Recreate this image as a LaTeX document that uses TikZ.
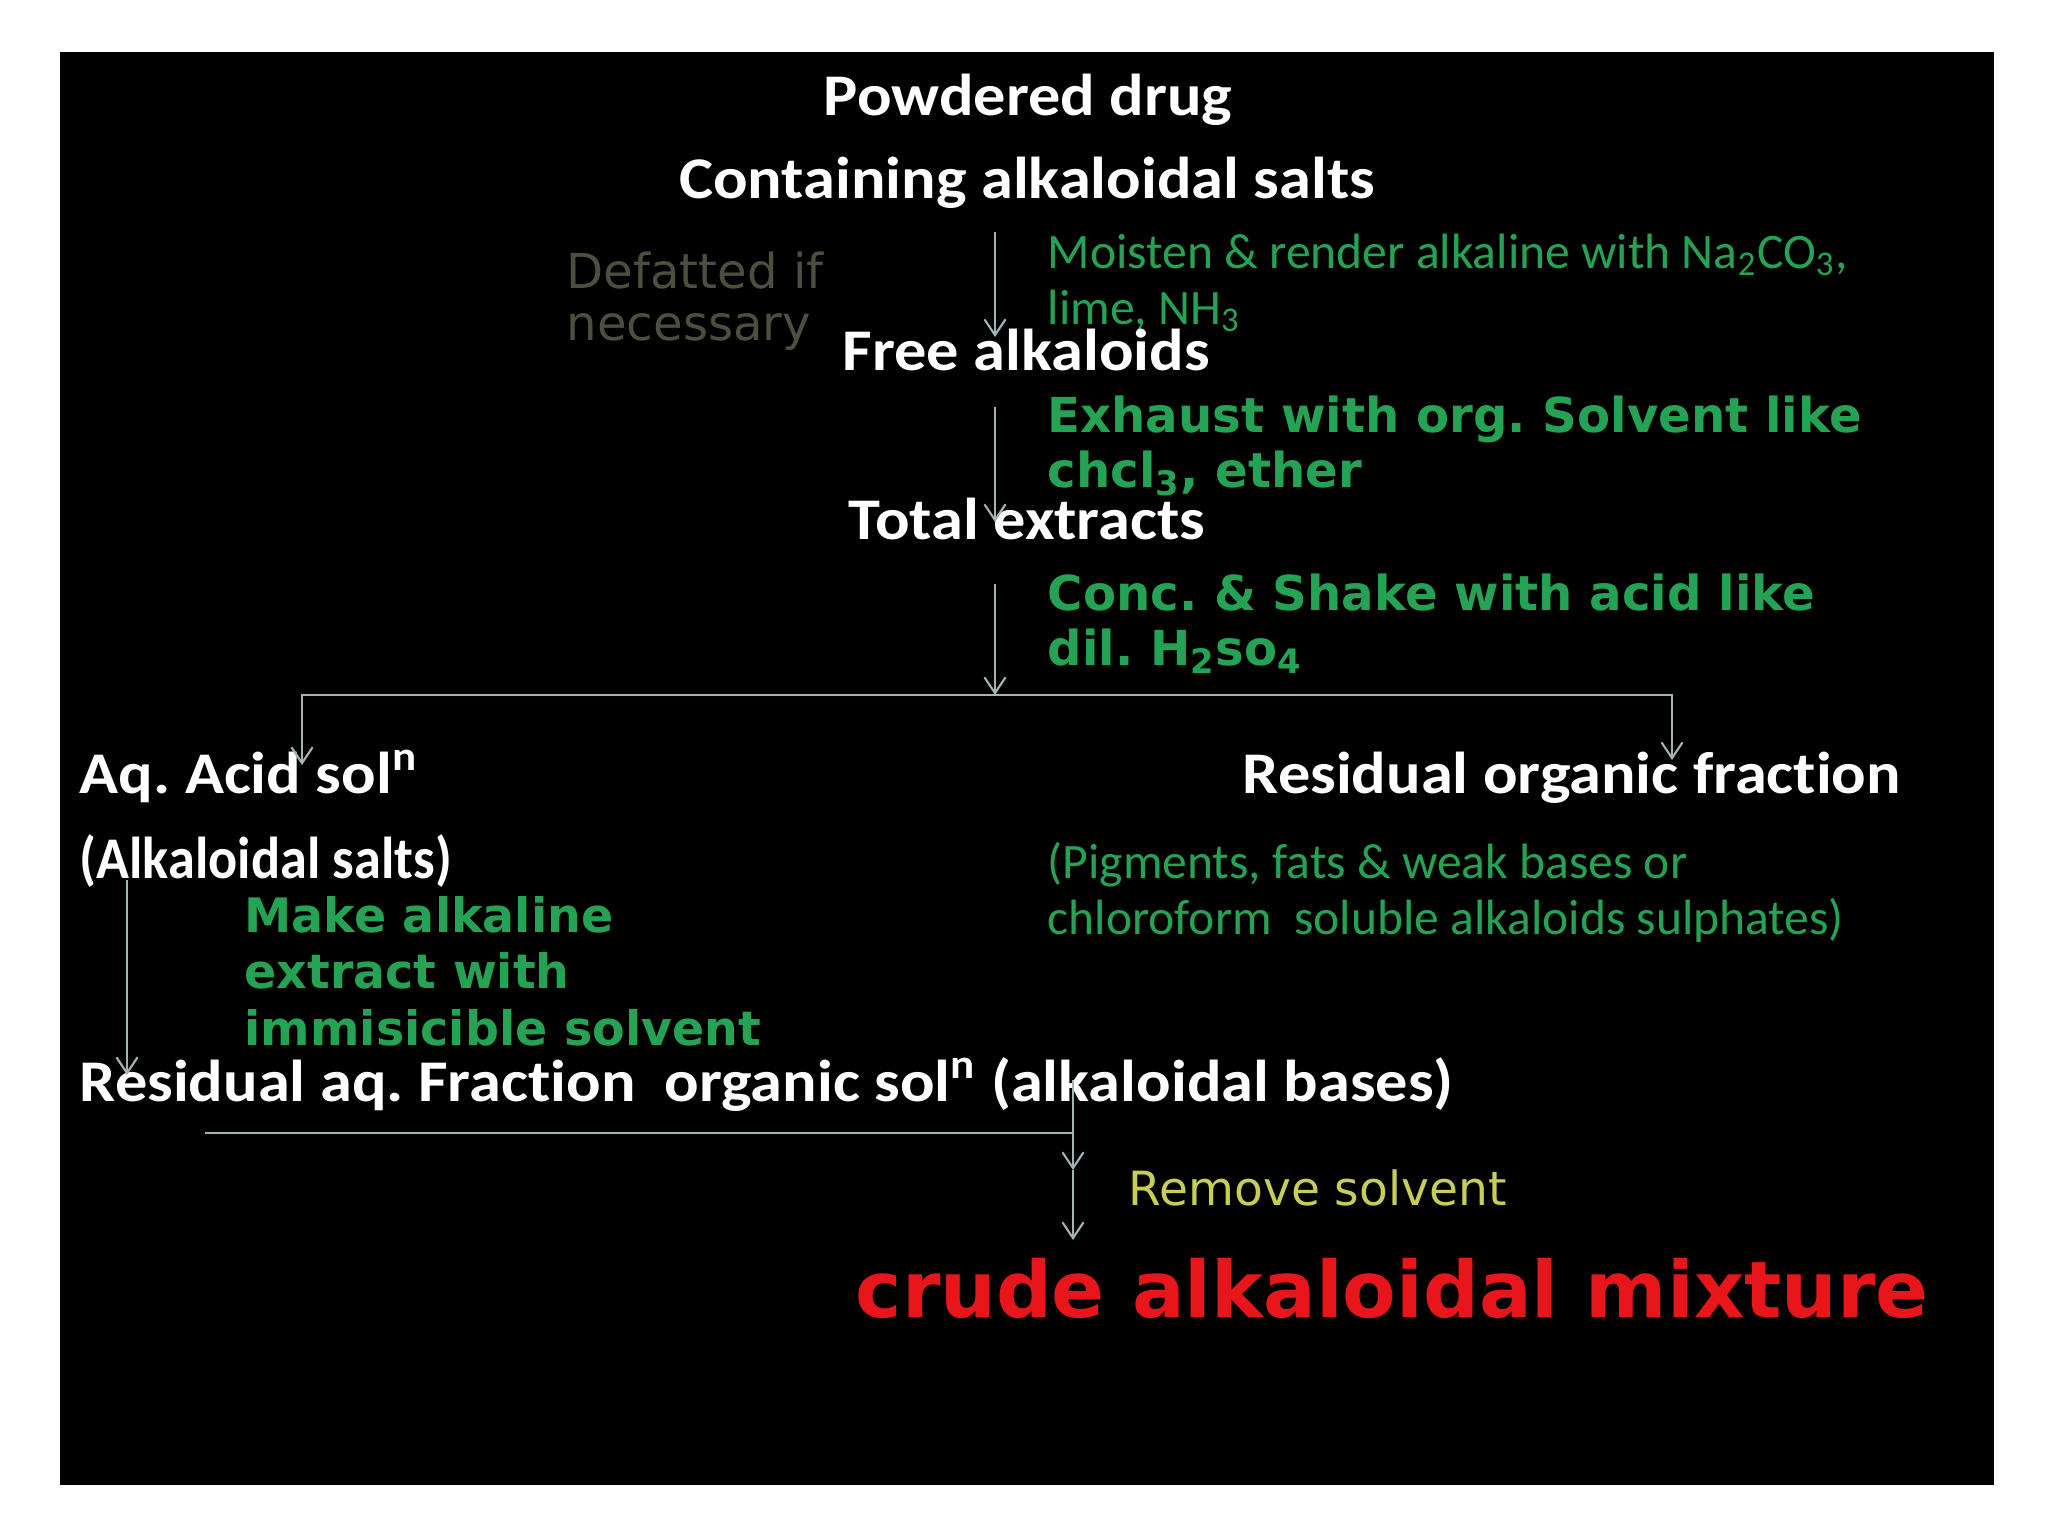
\documentclass[tikz,border=0pt]{standalone}
\usepackage{fontspec}
\usepackage{tikz}
\usetikzlibrary{arrows.meta}
\setmainfont[Ligatures=NoCommon]{Carlito}
\newfontfamily\slidefont[FakeStretch=1.09,Ligatures=NoCommon]{Carlito}
\newfontfamily\narrowfont[FakeStretch=0.92,Ligatures=NoCommon]{Carlito}
\newfontfamily\notefont{DejaVu Sans}
\newcommand{\rows}[1]{\begin{tabular}[t]{@{}l@{}}#1\end{tabular}}
\definecolor{leaf}{HTML}{25A355}
\definecolor{dimtext}{HTML}{4E4E3E}
\definecolor{lemon}{HTML}{C8CE55}
\definecolor{crudered}{HTML}{E8151B}
\definecolor{wire}{HTML}{A3B4B4}
\frenchspacing

\begin{document}
\begin{tikzpicture}[x=0.01cm,y=-0.01cm,
        every node/.style={inner sep=0pt,anchor=base west},
        stage/.style={text=white,font=\slidefont\bfseries\fontsize{16.8}{20}\selectfont},
        hint/.style={text=leaf,font=\fontsize{14.1}{16}\selectfont},
        bighint/.style={text=leaf,font=\notefont\bfseries\fontsize{13.7}{15.8}\selectfont},
        smallhint/.style={text=leaf,font=\notefont\bfseries\fontsize{13.5}{16.2}\selectfont},
        flow/.style={draw=wire,line width=0.6pt,-{Straight Barb[length=4.5pt,width=6pt]}},
        bus/.style={draw=wire,line width=0.6pt}]
  \fill[white] (0,0) rectangle (2048,1536);
  \fill[black] (60,52) rectangle (1994,1485);

  \node[stage,anchor=base] (drug) at (1028,115) {Powdered drug};
  \node[stage,anchor=base] (salts) at (1027,198) {Containing alkaloidal salts};
  \node[text=dimtext,font=\notefont\fontsize{13.7}{14.8}\selectfont] (defat) at (566,288) {\rows{Defatted if\\necessary}};
  \node[hint] (moisten) at (1047,268) {\rows{Moisten \& render alkaline with Na\textsubscript{2}CO\textsubscript{3},\\lime, NH\textsubscript{3}}};
  \node[stage] (free) at (842,370) {Free alkaloids};
  \node[bighint] (exhaust) at (1047,432) {\rows{Exhaust with org. Solvent like\\chcl\textsubscript{3}, ether}};
  \node[stage] (total) at (848,539) {Total extracts};
  \node[bighint] (shake) at (1047,610) {\rows{Conc. \& Shake with acid like\\dil. H\textsubscript{2}so\textsubscript{4}}};
  \node[stage] (acid) at (79,793) {Aq. Acid sol\textsuperscript{n}};
  \node[stage] (resorg) at (1242,793) {Residual organic fraction};
  \node[text=white,font=\narrowfont\bfseries\fontsize{16.8}{20}\selectfont] (alksalts) at (79,878) {(Alkaloidal salts)};
  \node[hint] (pigments) at (1047,878) {\rows{(Pigments, fats \& weak bases or\\chloroform~ soluble alkaloids sulphates)}};
  \node[smallhint] (makealk) at (244,932) {\rows{Make alkaline\\extract with\\immisicible solvent}};
  \node[stage] (bases) at (79,1101) {Residual aq. Fraction~ organic sol\textsuperscript{n} (alkaloidal bases)};
  \node[text=lemon,font=\notefont\fontsize{13.4}{15}\selectfont] (remove) at (1128,1205) {Remove solvent};
  \node[text=crudered,font=\notefont\bfseries\fontsize{22.2}{26}\selectfont] (crude) at (855,1317) {crude alkaloidal mixture};

  \coordinate (s1) at (995,232);
  \coordinate (e1) at (995,337);
  \coordinate (s2) at (995,407);
  \coordinate (e2) at (995,522);
  \coordinate (s3) at (995,584);
  \coordinate (fork) at (995,695);
  \coordinate (acidin) at (302,765);
  \coordinate (orgin) at (1672,760);
  \coordinate (s4) at (127,880);
  \coordinate (e4) at (127,1075);
  \coordinate (join) at (205,1133);
  \coordinate (s5) at (1073,1080);
  \coordinate (m5) at (1073,1170);
  \coordinate (e5) at (1073,1240);

  \draw[flow] (s1) -- (e1);
  \draw[flow] (s2) -- (e2);
  \draw[flow] (s3) -- (fork);
  \draw[flow] (fork) -| (acidin);
  \draw[flow] (fork) -| (orgin);
  \draw[flow] (s4) -- (e4);
  \draw[bus] (join) -- (join -| s5);
  \draw[flow] (s5) -- (m5);
  \draw[flow] (m5) -- (e5);
\end{tikzpicture}
\end{document}
